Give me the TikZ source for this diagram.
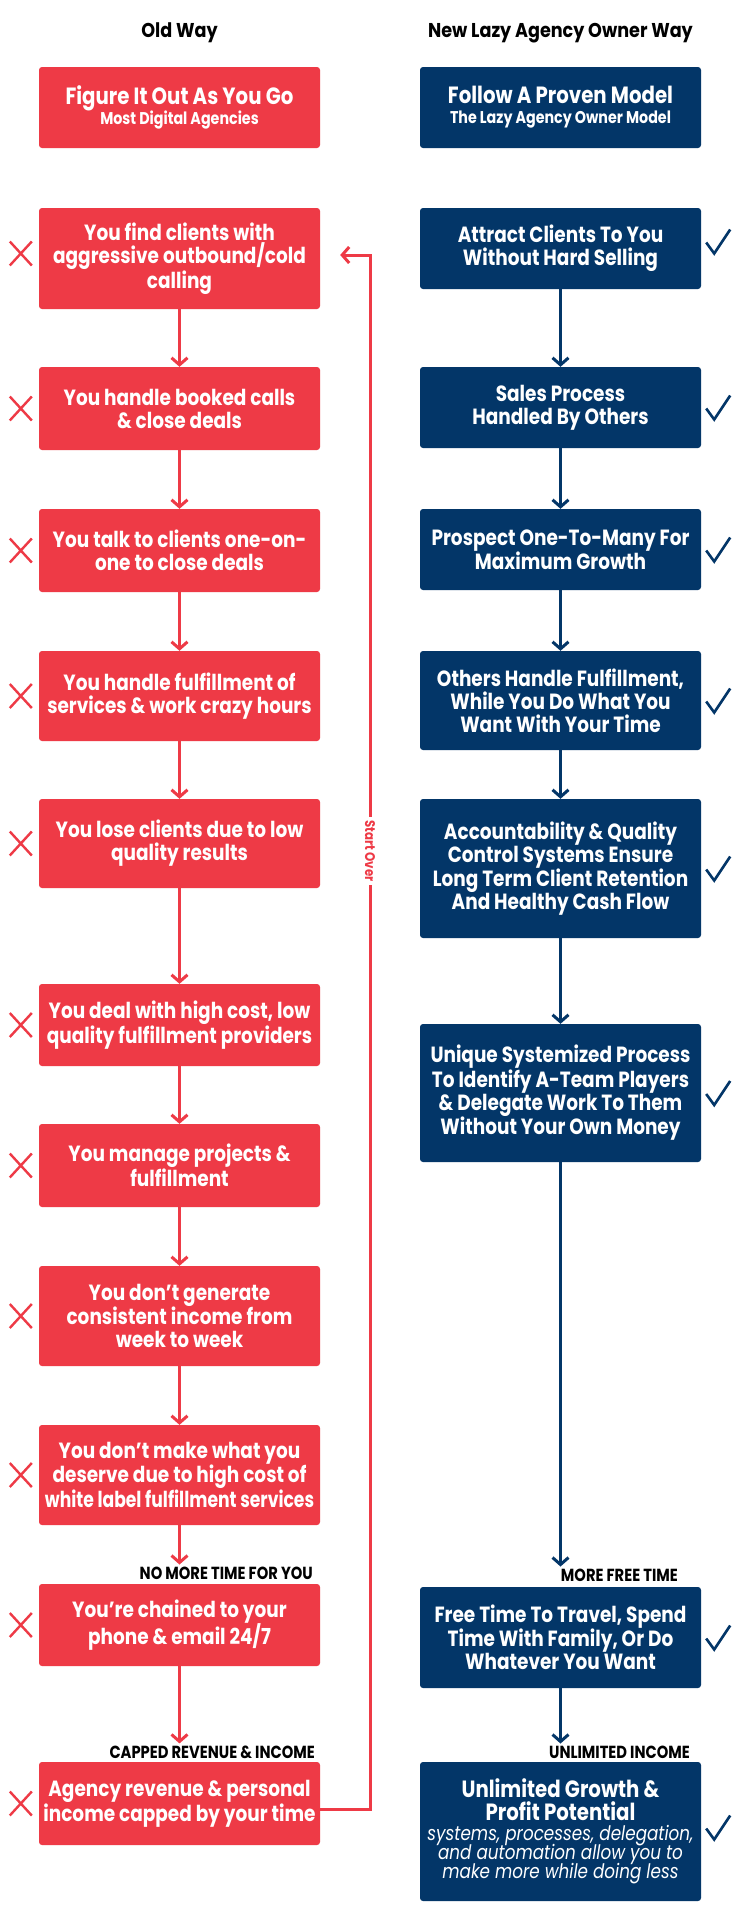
\documentclass[tikz,border=0pt]{standalone}
\usepackage{fontspec}
\setmainfont{Poppins}[FakeStretch=0.84]
\newfontfamily\labfont{Poppins}[FakeStretch=0.84]
\newfontfamily\headfont{Poppins}[FakeStretch=0.88]
\newfontfamily\narrowfont{Poppins}[FakeStretch=0.78]
\usetikzlibrary{arrows.meta,calc}
\definecolor{oldred}{RGB}{238,58,70}
\definecolor{navy}{RGB}{3,54,104}
\tikzset{
  box/.style={rectangle, rounded corners=3pt, minimum width=281pt, inner sep=0pt,
    align=center, text=white, font=\bfseries\fontsize{22}{23}\selectfont},
  redbox/.style={box, fill=oldred},
  bluebox/.style={box, fill=navy},
  head/.style={font=\headfont\bfseries\fontsize{20}{22}\selectfont, text=black, inner sep=0pt},
  steplabel/.style={font=\labfont\bfseries\fontsize{17.5}{18}\selectfont, text=black, inner sep=2pt, anchor=east, fill=white},
  redflow/.style={draw=oldred, line width=3pt, -{Straight Barb[length=7pt,width=16pt]}},
  blueflow/.style={draw=navy, line width=3pt, -{Straight Barb[length=7pt,width=16pt]}},
  startover/.style={font=\labfont\bfseries\fontsize{14}{14}\selectfont, text=oldred, fill=white, rotate=-90, inner sep=3pt},
  xmark/.pic={\draw[oldred, line width=2.4pt] (-11,-12) -- (11,12) (-11,12) -- (11,-12);},
  cmark/.pic={\draw[navy, line width=2.6pt, line join=miter] (-12,1) -- (-4,12) -- (12,-12);}
}
\newcommand{\topfont}{\fontsize{23.5}{23}\selectfont}
\newcommand{\subfont}{\fontsize{17}{18}\selectfont}
\newcommand{\itfont}{\mdseries\itshape\fontsize{20}{19}\selectfont}
\begin{document}
\begin{tikzpicture}[x=1pt,y=-1pt]
\useasboundingbox (0,0) rectangle (740,1920);
\fill[white] (0,0) rectangle (740,1920);

% headers
\node[head] (h1) at (179.5,33) {Old Way};
\node[head] (h2) at (560.5,33) {New Lazy Agency Owner Way};

% red column
\node[redbox, minimum height=81pt] (r0) at (179.5,107.5) {{\topfont Figure It Out As You Go}\\[-3pt]{\subfont Most Digital Agencies}};
\node[redbox, minimum height=101pt] (r1) at (179.5,258.5) {You find clients with\\aggressive outbound/cold\\calling};
\node[redbox, minimum height=83pt] (r2) at (179.5,408.5) {You handle booked calls\\\& close deals};
\node[redbox, minimum height=83pt] (r3) at (179.5,550.5) {You talk to clients one-on-\\one to close deals};
\node[redbox, minimum height=90pt] (r4) at (179.5,696) {You handle fulfillment of\\services \& work crazy hours};
\node[redbox, minimum height=89pt] (r5) at (179.5,843.5) {You lose clients due to low\\quality results};
\node[redbox, minimum height=82pt] (r6) at (179.5,1025) {You deal with high cost, low\\quality fulfillment providers};
\node[redbox, minimum height=83pt] (r7) at (179.5,1165.5) {You manage projects \&\\fulfillment};
\node[redbox, minimum height=100pt] (r8) at (179.5,1316) {You don’t generate\\consistent income from\\week to week};
\node[redbox, minimum height=100pt] (r9) at (179.5,1475) {You don’t make what you\\deserve due to high cost of\\{\narrowfont white label fulfillment services}};
\node[redbox, minimum height=82pt] (r10) at (179.5,1625) {You’re chained to your\\phone \& email 24/7};
\node[redbox, minimum height=83pt] (r11) at (179.5,1803.5) {Agency revenue \& personal\\income capped by your time};

\node[steplabel] (lr1) at (315,1573) {NO MORE TIME FOR YOU};
\node[steplabel] (lr2) at (317,1752) {CAPPED REVENUE \& INCOME};

% blue column
\node[bluebox, minimum height=81pt] (b0) at (560.5,107.5) {{\topfont Follow A Proven Model}\\[-3pt]{\subfont The Lazy Agency Owner Model}};
\node[bluebox, minimum height=81pt] (b1) at (560.5,248.5) {Attract Clients To You\\Without Hard Selling};
\node[bluebox, minimum height=81pt] (b2) at (560.5,407.5) {Sales Process\\Handled By Others};
\node[bluebox, minimum height=81pt] (b3) at (560.5,549.5) {Prospect One-To-Many For\\Maximum Growth};
\node[bluebox, minimum height=99pt] (b4) at (560.5,700.5) {Others Handle Fulfillment,\\While You Do What You\\Want With Your Time};
\node[bluebox, minimum height=139pt] (b5) at (560.5,868.5) {Accountability \& Quality\\Control Systems Ensure\\Long Term Client Retention\\And Healthy Cash Flow};
\node[bluebox, minimum height=138pt] (b6) at (560.5,1093) {Unique Systemized Process\\To Identify A-Team Players\\\& Delegate Work To Them\\Without Your Own Money};
\node[bluebox, minimum height=101pt] (b7) at (560.5,1637.5) {Free Time To Travel, Spend\\Time With Family, Or Do\\Whatever You Want};
\node[bluebox, minimum height=139pt] (b8) at (560.5,1831.5) {{\topfont Unlimited Growth \&}\\{\topfont Profit Potential}\\[-3pt]{\itfont systems, processes, delegation,}\\[-4pt]{\itfont and automation allow you to}\\[-4pt]{\itfont make more while doing less}};

\node[steplabel] (lb1) at (680,1575) {MORE FREE TIME};
\node[steplabel] (lb2) at (692,1752) {UNLIMITED INCOME};

% red arrows
\draw[redflow] (r1.south) -- (r2.north);
\draw[redflow] (r2.south) -- (r3.north);
\draw[redflow] (r3.south) -- (r4.north);
\draw[redflow] (r4.south) -- (r5.north);
\draw[redflow] (r5.south) -- (r6.north);
\draw[redflow] (r6.south) -- (r7.north);
\draw[redflow] (r7.south) -- (r8.north);
\draw[redflow] (r8.south) -- (r9.north);
\draw[redflow] (r9.south) -- (r9.south |- lr1.north);
\draw[redflow] (r10.south) -- (r10.south |- lr2.north);

% blue arrows
\draw[blueflow] (b1.south) -- (b2.north);
\draw[blueflow] (b2.south) -- (b3.north);
\draw[blueflow] (b3.south) -- (b4.north);
\draw[blueflow] (b4.south) -- (b5.north);
\draw[blueflow] (b5.south) -- (b6.north);
\draw[blueflow] (b6.south) -- (b6.south |- lb1.north);
\draw[blueflow] (b7.south) -- (b7.south |- lb2.north);

% start over loop
\coordinate (loopx) at (370,0);
\draw[redflow] ($(r11.east)+(0,5.5)$) -| ($(loopx |- r1.east)+(0,-3.5)$) -- ($(r1.east)+(20,-3.5)$);
\node[startover] (so) at (370,851) {Start Over};

% crosses
\pic at ($(r1.west)+(-18,-5)$) {xmark};
\foreach \n in {r2,r3,r4,r5,r6,r7,r8,r9,r10,r11} {\pic at ($(\n.west)+(-18,0)$) {xmark};}

% checks
\pic at ($(b1.east)+(17,-7)$) {cmark};
\foreach \n in {b2,b3,b4,b5,b6,b7} {\pic at ($(\n.east)+(17,0)$) {cmark};}
\pic at ($(b8.east)+(17,-4)$) {cmark};
\end{tikzpicture}
\end{document}
